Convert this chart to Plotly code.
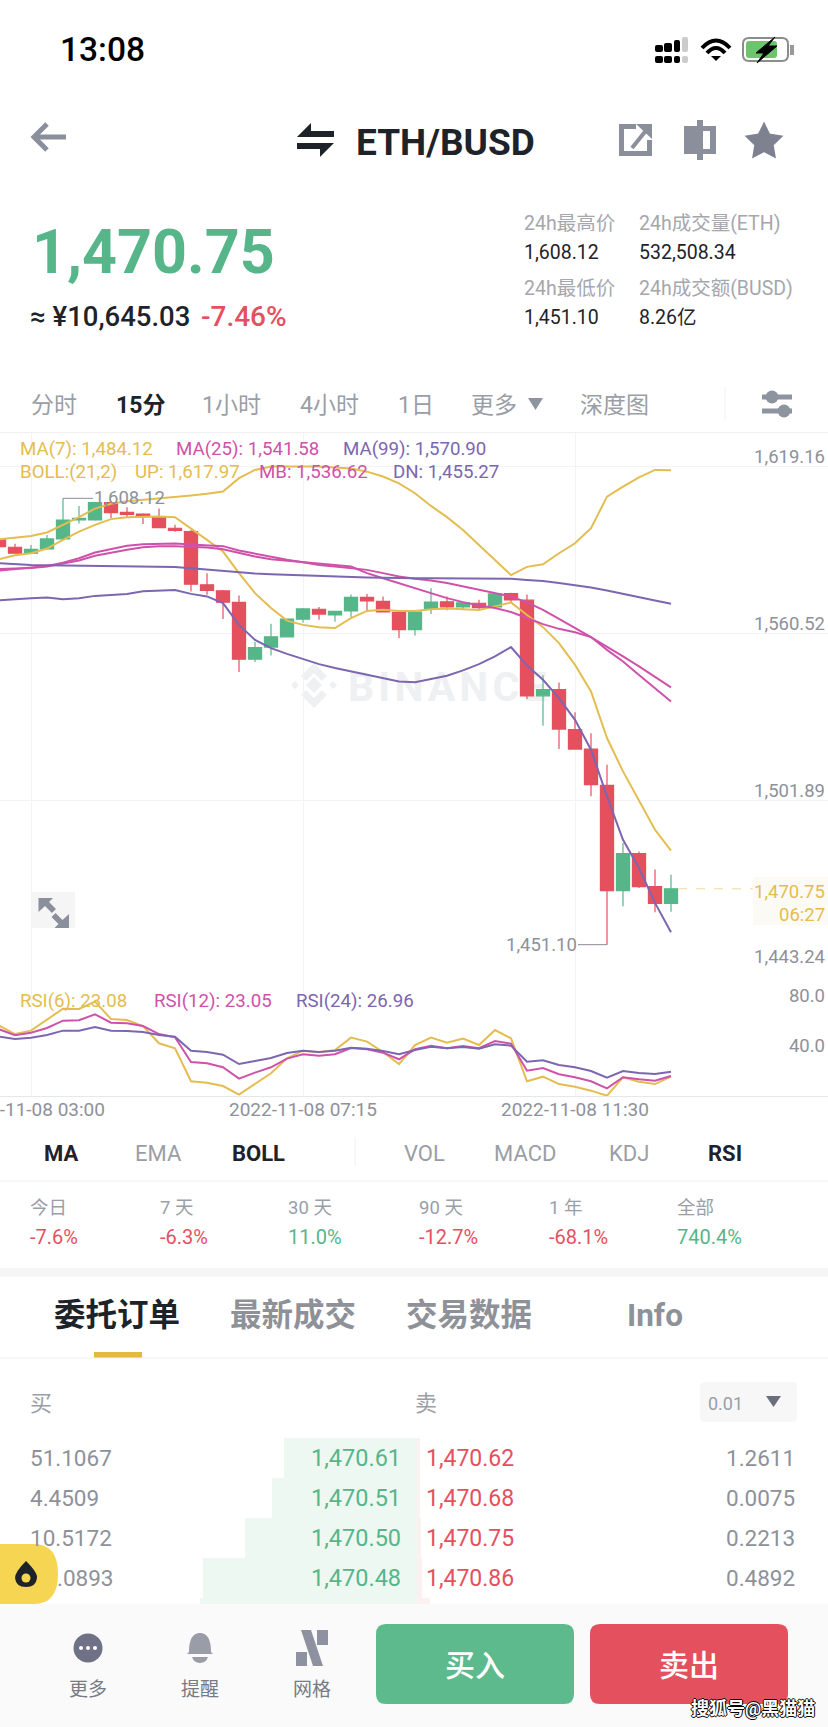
import math, re
import plotly.graph_objects as go

W, H = 828, 1727
times = ["2022-11-08 " + t for t in
 ["02:30","02:45","03:00","03:15","03:30","03:45","04:00","04:15","04:30","04:45","05:00",
  "05:15","05:30","05:45","06:00","06:15","06:30","06:45","07:00","07:15","07:30","07:45",
  "08:00","08:15","08:30","08:45","09:00","09:15","09:30","09:45","10:00","10:15","10:30",
  "10:45","11:00","11:15","11:30","11:45","12:00","12:15","12:30","12:45","13:00"]]
opens = [1593.5,1590.9,1588.8,1590.3,1593.85,1600.5,1600.5,1606.6,1603.2,1602.6,1601.7,1597.6,1596.4,1577.7,1575.6,1571.5,
         1551.5,1555.8,1559.4,1565.6,1569.1,1567.1,1568.5,1573.3,1571.9,1568.0,1561.9,1569.1,1571.7,1569.9,1571.2,1569.9,
         1574.6,1572.3,1538.65,1540.8,1526.8,1519.9,1507.15,1470.1,1483.1,1471.5,1465.65]
closes = [1591.15,1588.8,1590.2,1593.85,1600.5,1601.1,1606.6,1603.1,1602.5,1601.7,1597.8,1596.8,1577.9,1575.7,1571.6,1551.5,
          1555.6,1559.4,1565.6,1569.2,1567.4,1568.4,1573.3,1572.05,1568.2,1561.9,1568.1,1571.6,1569.9,1571.35,1569.7,1574.5,
          1572.4,1538.65,1540.8,1526.95,1519.9,1507.4,1470.1,1483.1,1471.5,1465.65,1470.75]
highs = [1594.1,1592.1,1591.7,1595.25,1608.12,1605.45,1606.6,1607.3,1605.0,1602.9,1604.5,1598.8,1597.0,1581.8,1575.9,1573.9,
         1557.6,1564.0,1565.8,1569.5,1569.9,1568.6,1574.3,1574.5,1573.6,1568.0,1568.5,1576.5,1573.6,1571.6,1572.4,1574.75,
         1574.9,1574.3,1545.9,1543.3,1532.9,1525.5,1514.4,1486.9,1483.9,1477.5,1475.7]
lows = [1590.9,1588.6,1588.6,1590.2,1593.5,1599.3,1600.2,1601.2,1601.2,1599.1,1597.8,1596.4,1575.3,1574.2,1565.7,1547.0,
        1550.5,1552.8,1559.2,1564.4,1565.4,1564.7,1566.3,1568.2,1568.0,1558.9,1559.9,1567.4,1568.7,1569.1,1569.1,1569.7,
        1571.5,1537.5,1528.1,1519.9,1519.9,1503.3,1451.1,1464.6,1471.0,1462.5,1462.7]
boll_up = [1593.7,1594.4,1594.9,1596.1,1598.8,1601.5,1604.5,1606.2,1607.1,1607.6,1608.0,1608.4,1609.1,1609.7,1610.5,1615.2,
           1618.1,1619.3,1619.3,1619.3,1619.3,1619.0,1618.6,1617.5,1615.8,1613.4,1609.9,1605.45,1601.5,1597.0,1591.7,1586.5,
           1581.1,1584.0,1584.9,1588.8,1592.3,1597.6,1608.7,1612.25,1615.5,1618.1,1618.0]
ma7 = [1586.7,1588.1,1588.8,1590.45,1593.5,1596.4,1598.8,1600.8,1601.5,1601.6,1601.7,1601.5,1597.6,1593.5,1589.4,1581.8,
       1574.75,1569.5,1565.1,1563.6,1562.8,1562.5,1566.0,1568.5,1568.9,1568.5,1568.5,1569.1,1569.4,1569.2,1568.8,1570.1,
       1571.5,1567.1,1562.8,1557.2,1549.55,1540.2,1523.8,1512.05,1501.5,1491.5,1484.2]
boll_mb = [1582.7,1583.2,1583.65,1584.35,1585.5,1587.05,1589.05,1590.2,1591.4,1592.0,1592.1,1592.2,1591.9,1591.6,1591.3,1589.75,
           1588.6,1587.5,1586.5,1585.65,1584.7,1584.1,1583.5,1582.95,1581.8,1580.6,1579.8,1579.2,1578.3,1577.1,1575.9,1574.6,
           1573.6,1571.5,1568.9,1565.7,1562.4,1559.3,1554.8,1550.7,1546.0,1541.35,1536.65]
ma25 = [1583.2,1583.4,1583.65,1584.1,1585.1,1586.25,1587.9,1589.05,1590.0,1590.9,1591.3,1591.3,1591.15,1590.8,1590.2,1588.8,
        1587.65,1586.7,1586.25,1585.65,1585.3,1584.7,1584.1,1581.8,1580.0,1578.3,1576.5,1574.75,1573.0,1571.6,1570.4,1569.5,
        1568.1,1566.0,1563.85,1562.2,1561.0,1559.3,1556.0,1552.5,1549.0,1545.2,1541.6]
ma99 = [1585.3,1584.95,1584.7,1584.6,1584.5,1584.5,1584.35,1584.35,1584.25,1584.25,1584.1,1584.0,1583.5,1583.05,1582.5,1582.0,
        1581.65,1581.4,1581.2,1580.95,1580.6,1580.5,1580.4,1580.25,1580.15,1580.0,1580.0,1580.0,1580.0,1580.0,1579.9,1579.9,
        1579.8,1579.4,1579.0,1578.3,1577.55,1576.75,1575.7,1574.6,1573.45,1572.15,1571.0]
boll_dn = [1572.2,1572.65,1573.0,1573.2,1572.65,1573.0,1573.8,1574.15,1574.5,1575.45,1575.7,1575.9,1574.5,1573.6,1571.25,1563.6,
           1558.3,1555.4,1553.4,1551.5,1549.8,1548.4,1547.2,1546.0,1544.85,1543.7,1543.45,1544.5,1545.7,1547.6,1549.8,1552.5,
           1555.8,1549.3,1544.3,1537.8,1530.2,1519.7,1503.25,1488.0,1478.05,1465.8,1455.45]
rsi6 = [63.9,57.2,59.9,68.4,77.5,77.2,83.1,69.2,68.4,63.6,49.8,45.8,19.4,18.3,15.6,8.7,17.2,25.8,37.8,43.9,42.6,44.4,54.3,51.1,42.8,33.2,48.4,
        54.3,50.3,53.5,48.4,60.4,53.8,19.4,23.1,17.2,15.1,11.9,7.9,22.6,19.1,17.2,23.1]
rsi12 = [61.0,56.2,58.3,62.0,67.9,68.2,73.0,66.3,65.8,63.6,57.2,54.6,34.8,33.8,30.6,21.5,26.3,30.6,37.5,41.0,39.9,41.0,46.0,45.0,42.3,37.0,45.0,
         47.9,45.8,47.6,45.8,51.6,49.5,27.9,30.0,25.0,22.6,19.4,13.8,22.6,21.0,19.9,23.6]
rsi24 = [55.1,53.2,54.3,56.4,59.9,59.9,62.8,59.9,59.6,58.8,56.4,55.1,43.9,42.8,40.7,33.2,35.6,38.0,42.0,43.9,42.8,43.9,46.3,45.5,43.6,41.0,44.4,
         47.1,45.8,46.8,45.5,49.0,47.9,35.1,36.2,32.4,30.6,27.6,22.3,27.6,26.0,25.2,27.1]

price_ticks = [1619.16, 1560.52, 1501.89, 1443.24]
price_labels = ["1,619.16", "1,560.52", "1,501.89", "1,443.24"]
rsi_ticks = [80, 40]
rsi_labels = ["80.0", "40.0"]
grid_times = ["2022-11-08 03:00", "2022-11-08 07:15", "2022-11-08 11:30"]
bid_qty = ["51.1067", "4.4509", "10.5172", ".0893"]
bid_price = ["1,470.61", "1,470.51", "1,470.50", "1,470.48"]
ask_price = ["1,470.62", "1,470.68", "1,470.75", "1,470.86"]
ask_qty = ["1.2611", "0.0075", "0.2213", "0.4892"]
bid_depth = [51.1067, 55.5576, 66.0748, 82.1641, 83.3]
ask_depth = [1.2611, 1.2686, 1.4899, 1.9791, 5.0]
period_names = ["今日", "7 天", "30 天", "90 天", "1 年", "全部"]
period_vals = ["-7.6%", "-6.3%", "11.0%", "-12.7%", "-68.1%", "740.4%"]

GREEN, RED = "#56B68A", "#E5505F"
YEL, PINK, PUR = "#E3BD4F", "#CF52AA", "#7C66B0"
GRAY, DARK, GRID = "#8E9199", "#1E2329", "#F2F3F5"
FONT = "Roboto, 'Noto Sans CJK SC', sans-serif"

def fx(x): return x / W
def fy(y): return 1 - y / H

ann, shp = [], []
def T(x, y, s, size, color, anchor="left", weight=None, **fontkw):
    f = dict(family=FONT, size=size, color=color, **fontkw)
    if weight: f["weight"] = weight
    if anchor == "left": x -= 2
    ann.append(dict(xref="paper", yref="paper", x=fx(x), y=fy(y), text=s, showarrow=False,
                    xanchor=anchor, yanchor="middle", font=f, borderpad=0))
def path(d, fill=None, line=None, lw=0, layer="above"):
    out = []
    for cmd, nums in re.findall(r"([MLQZ])([^MLQZ]*)", d):
        v = [float(n) for n in nums.split()]
        pts = " ".join(f"{fx(v[i]):.5f},{fy(v[i+1]):.5f}" for i in range(0, len(v), 2))
        out.append(cmd + pts)
    shp.append(dict(type="path", xref="paper", yref="paper", path=" ".join(out), layer=layer,
                    fillcolor=fill or "rgba(0,0,0,0)", line=dict(color=line or "rgba(0,0,0,0)", width=lw)))
def rect(x0, y0, x1, y1, fill, layer="above"):
    shp.append(dict(type="rect", xref="paper", yref="paper", x0=fx(x0), x1=fx(x1), y0=fy(y0), y1=fy(y1),
                    fillcolor=fill, line=dict(width=0), layer=layer))
def rrect(x0, y0, x1, y1, r, fill=None, line=None, lw=0):
    path(f"M{x0+r} {y0} L{x1-r} {y0} Q{x1} {y0} {x1} {y0+r} L{x1} {y1-r} Q{x1} {y1} {x1-r} {y1} "
         f"L{x0+r} {y1} Q{x0} {y1} {x0} {y1-r} L{x0} {y0+r} Q{x0} {y0} {x0+r} {y0} Z", fill, line, lw)
def seg(x0, y0, x1, y1, color, w):
    shp.append(dict(type="line", xref="paper", yref="paper", x0=fx(x0), x1=fx(x1), y0=fy(y0), y1=fy(y1),
                    line=dict(color=color, width=w), layer="above"))
def circ(cx, cy, r, fill):
    shp.append(dict(type="circle", xref="paper", yref="paper", x0=fx(cx-r), x1=fx(cx+r), y0=fy(cy-r), y1=fy(cy+r),
                    fillcolor=fill, line=dict(width=0), layer="above"))

# --- status bar
T(61, 50, "13:08", 33.5, "#000000", weight=500)
for (x0, x1, top, c) in [(655, 663, 45, "#000"), (664, 672, 43, "#000"), (674, 680, 40, "#000"), (682, 688, 37, "#CCCCCC")]:
    rrect(x0, top, x1, 52, 2, c)
    rrect(x0, 56, x1, 63, 2, c)
path("M702 48 Q716 33 730 48", None, "#000", 4)
path("M707 53 Q716 43 725 53", None, "#000", 4)
path("M711 56 L721 56 L716 61 Z", "#000")
rrect(743, 38, 788, 61, 6, None, "#8C8C8C", 2)
rrect(746, 41, 777, 58, 3, "#6CC56A")
rect(790, 45, 794, 55, "#999999")
path("M775 37 L756 53 L764 53 L757 63 L777 46 L768 46 Z", "#000", "#000", 1)

# --- header
path("M66 137 L34 137", None, "#8A8F9B", 5)
path("M47 124 L34 137 L47 150", None, "#8A8F9B", 5)
path("M311 123 L297 137 L334 137 L334 131 L311 131 Z", DARK)
path("M297 143 L334 143 L320 157 L320 149 L297 149 Z", DARK)
T(357, 142, "ETH/BUSD", 37, DARK, weight=700)
path("M636 126.5 L621.5 126.5 L621.5 153.5 L649.5 153.5 L649.5 140", None, "#8B8F9C", 5)
path("M632 148 L648 128", None, "#8B8F9C", 4)
path("M636 124 L652 124 L652 139 Z", "#8B8F9C")
rect(697, 120, 703, 160, "#8B8F9C")
rect(684, 126, 716, 154, "#8B8F9C")
rect(703, 131, 710, 149, "#FFFFFF")
star = []
for i in range(10):
    r = 17 if i % 2 == 0 else 8.5
    a = -math.pi / 2 + i * math.pi / 5
    star.append(f"{764 + r * math.cos(a):.1f} {142 + r * math.sin(a):.1f}")
path("M" + " L".join(star) + " Z", "#7D8190", "#7D8190", 3)

# --- price block
T(33, 252, "1,470.75", 61, GREEN, weight=700)
T(31, 316, "≈ ¥10,645.03", 27.5, DARK, weight=500)
T(202, 316, "-7.46%", 28, RED, weight=500)
for (x, y, s, c) in [(525, 223, "24h最高价", "#A5A7AD"), (640, 223, "24h成交量(ETH)", "#A5A7AD"),
                     (525, 253, "1,608.12", DARK), (640, 253, "532,508.34", DARK),
                     (525, 288, "24h最低价", "#A5A7AD"), (640, 288, "24h成交额(BUSD)", "#A5A7AD"),
                     (525, 318, "1,451.10", DARK), (640, 318, "8.26亿", DARK)]:
    T(x, y, s, 19.5, c)

# --- interval tabs
for (x, s, c, w) in [(32, "分时", "#9A9EA6", None), (117, "15分", DARK, 700), (203, "1小时", "#9A9EA6", None),
                     (301, "4小时", "#9A9EA6", None), (399, "1日", "#9A9EA6", None), (472, "更多", "#9A9EA6", None),
                     (581, "深度图", "#9A9EA6", None)]:
    T(x, 405, s, 23, c, weight=w)
path("M528 398 L543 398 L535.5 410 Z", "#8E93A0")
seg(725, 387, 725, 420, "#F0F0F2", 1)
seg(762, 397, 792, 397, "#8E93A0", 5)
seg(762, 411, 792, 411, "#8E93A0", 5)
circ(772, 397, 6.5, "#8E93A0")
circ(784, 411, 6.5, "#8E93A0")

# --- chart legends
for (x, y, s, c) in [(21, 449, "MA(7): 1,484.12", YEL), (177, 449, "MA(25): 1,541.58", PINK), (344, 449, "MA(99): 1,570.90", PUR),
                     (21, 472, "BOLL:(21,2)", YEL), (136, 472, "UP: 1,617.97", YEL), (260, 472, "MB: 1,536.62", PINK),
                     (394, 472, "DN: 1,455.27", PUR), (21, 1001, "RSI(6): 23.08", YEL), (155, 1001, "RSI(12): 23.05", PINK),
                     (297, 1001, "RSI(24): 26.96", PUR)]:
    T(x, y, s, 18.7, c)

# watermark under the marks
c_w = "#EFF0F2"
path("M314 677 L322 685 L314 693 L306 685 Z", c_w, layer="below")
path("M295 681 L299 685 L295 689 L291 685 Z", c_w, layer="below")
path("M333 681 L337 685 L333 689 L329 685 Z", c_w, layer="below")
path("M314 663 L327 676 L322 681 L314 673 L306 681 L301 676 Z", c_w, layer="below")
path("M314 708 L327 695 L322 690 L314 698 L306 690 L301 695 Z", c_w, layer="below")
shp.append(dict(type="rect", xref="paper", yref="paper", x0=fx(345), x1=fx(540), y0=fy(705), y1=fy(662), layer="below",
                line=dict(width=0), fillcolor="rgba(0,0,0,0)",
                label=dict(text="B\u200aI\u200aN\u200aA\u200aN\u200aC\u200aE", textposition="middle left", padding=0,
                           font=dict(family=FONT, size=41, color=c_w, weight=700))))

# expand icon
rect(32, 892, 75, 928, "#F5F5F5")
path("M38.5 898 L53 898 L49 902 L56 909 L52 913 L45 906 L38.5 912 Z", "#8B8E9B")
path("M69 928 L54.5 928 L58.5 924 L51.5 917 L55.5 913 L62.5 920 L69 914 Z", "#8B8E9B")

# last price marker
shp.append(dict(type="line", xref="paper", yref="y", x0=fx(678), x1=fx(753), y0=closes[-1], y1=closes[-1],
                line=dict(color="#F0D99A", width=1, dash="dash"), layer="above"))
rect(753, 877, 828, 925, "#FBFAF5")
T(826, 892, "1,470.75", 18.5, YEL, "right")
T(826, 915, "06:27", 18.5, YEL, "right")

# extremes
ann.append(dict(xref="x", yref="y", x=times[4], y=highs[4], ax=30, ay=0, axref="pixel", ayref="pixel", text="1,608.12",
                xanchor="left", yanchor="middle", showarrow=True, arrowhead=0, arrowwidth=1, arrowcolor="#8A8E96", standoff=0,
                borderpad=0, font=dict(family=FONT, size=18.5, color=GRAY)))
ann.append(dict(xref="x", yref="y", x=times[38], y=lows[38], ax=-29, ay=0, axref="pixel", ayref="pixel", text="1,451.10",
                xanchor="right", yanchor="middle", showarrow=True, arrowhead=0, arrowwidth=1, arrowcolor="#8A8E96", standoff=0,
                borderpad=0, font=dict(family=FONT, size=18.5, color=GRAY)))

# --- indicator tabs
for (x, s, c, w) in [(45, "MA", DARK, 700), (136, "EMA", "#9A9EA6", None), (233, "BOLL", DARK, 700), (405, "VOL", "#9A9EA6", None),
                     (495, "MACD", "#9A9EA6", None), (610, "KDJ", "#9A9EA6", None), (709, "RSI", DARK, 700)]:
    T(x, 1153, s, 22, c, weight=w)
seg(355, 1137, 355, 1166, "#F0F0F2", 1)
seg(0, 1181, 828, 1181, "#EEEFF1", 1)
for x, n, v in zip([31, 161, 289, 420, 550, 678], period_names, period_vals):
    T(x, 1208, n, 18.5, "#9A9EA6")
    T(x, 1237, v, 20, GREEN if not v.startswith("-") else RED)
rect(0, 1268, 828, 1277, "#F6F6F6")

# --- book tabs
for (x, s, c) in [(55, "委托订单", DARK), (231, "最新成交", "#8E9197"), (407, "交易数据", "#8E9197"), (628, "Info", "#8E9197")]:
    T(x, 1315, s, 31.5, c, weight=700)
rect(94, 1352, 142, 1358, "#E5BA3C")
seg(0, 1358, 828, 1358, "#EEEFF1", 1)

# --- order book
T(31, 1403, "买", 22, "#9A9EA6")
T(416, 1403, "卖", 22, "#9A9EA6")
rrect(700, 1382, 797, 1422, 5, "#F7F7F7")
T(709, 1403, "0.01", 18, "#9A9EA6")
path("M766 1396 L781 1396 L773.5 1407 Z", "#6A6F7B")
for i, y in enumerate([1458, 1498, 1538, 1578]):
    T(58 if i == 3 else 31, y, bid_qty[i], 22.5, "#8E9199")
    T(402, y, bid_price[i], 23.5, GREEN, "right")
    T(427, y, ask_price[i], 23, RED)
    T(796, y, ask_qty[i], 22.5, "#8E9199", "right")

# bubble
path("M0 1544 L34 1544 Q58 1544 58 1574 Q58 1604 34 1604 L0 1604 Z", "#F5D552")
path("M26 1561 Q38 1573 37 1578 Q36 1587 26 1587 Q16 1587 15 1578 Q15 1572 26 1561 Z", "#1E2329")
circ(26, 1578, 4.5, "#F5D552")

# --- bottom bar
rect(0, 1604, 828, 1727, "#FAFAFA")
circ(88, 1648, 14.5, "#6F7186")
for x in (81, 88, 95):
    circ(x, 1648, 2, "#FFFFFF")
T(88, 1689, "更多", 19, "#777B85", "center")
path("M189 1652 Q189 1633 200 1633 Q211 1633 211 1652 L213 1654 L187 1654 Z", "#9A9CA8")
path("M192 1657 L208 1657 Q206 1663 200 1663 Q194 1663 192 1657 Z", "#9A9CA8")
T(200, 1689, "提醒", 19, "#777B85", "center")
rect(296, 1652, 307, 1666, "#8E92A0")
rect(317, 1630, 328, 1645, "#8E92A0")
path("M301 1630 L311 1630 L323 1666 L313 1666 Z", "#8E92A0")
T(312, 1689, "网格", 19, "#777B85", "center")
rrect(376, 1624, 574, 1704, 10, "#5CBA8C")
rrect(590, 1624, 788, 1704, 10, RED)
T(475, 1665, "买入", 30, "#FFFFFF", "center", weight=500)
T(689, 1665, "卖出", 30, "#FFFFFF", "center", weight=500)
T(753, 1708, "搜狐号@黑猫猫", 18, "#FFFFFF", "center", weight=700,
  shadow="-1px 0 #000, 1px 0 #000, 0 1px #000, 0 -1px #000")

# --- traces
fig = go.Figure()
fig.add_trace(go.Candlestick(x=times, open=opens, high=highs, low=lows, close=closes, whiskerwidth=0, xaxis="x", yaxis="y",
                             increasing=dict(line=dict(color=GREEN, width=1.2), fillcolor=GREEN),
                             decreasing=dict(line=dict(color=RED, width=1.2), fillcolor=RED), showlegend=False))
for vals, c in [(boll_up, YEL), (ma7, YEL), (boll_mb, PINK), (ma25, PINK), (ma99, PUR), (boll_dn, PUR)]:
    fig.add_trace(go.Scatter(x=times, y=vals, mode="lines", line=dict(color=c, width=2), xaxis="x", yaxis="y", showlegend=False))
for vals, c in [(rsi6, YEL), (rsi12, PINK), (rsi24, PUR)]:
    fig.add_trace(go.Scatter(x=times, y=vals, mode="lines", line=dict(color=c, width=2), xaxis="x2", yaxis="y2", showlegend=False))
fig.add_trace(go.Bar(x=bid_depth, y=[0, 1, 2, 3, 4], orientation="h", marker=dict(color="#EDF8F2", line=dict(width=0)),
                     xaxis="x3", yaxis="y3", showlegend=False))
fig.add_trace(go.Bar(x=ask_depth, y=[0, 1, 2, 3, 4], orientation="h", marker=dict(color="#FDF0F1", line=dict(width=0)),
                     xaxis="x4", yaxis="y4", showlegend=False))

xr = ["2022-11-08 02:30:56", "2022-11-08 15:27:11"]
hidden = dict(visible=False, fixedrange=True)
y_common = dict(side="right", ticklabelposition="inside", ticks="", showline=False, zeroline=False, ticklabeloverflow="allow",
                tickfont=dict(family=FONT, size=18.5, color=GRAY), ticklabelshift=-10)
fig.update_layout(
    width=W, height=H, margin=dict(l=0, r=0, t=0, b=0, autoexpand=False), paper_bgcolor="#FFFFFF", plot_bgcolor="rgba(0,0,0,0)",
    showlegend=False, boxgap=0.18, boxgroupgap=0, bargap=0, dragmode=False,
    xaxis=dict(domain=[0, 1], range=xr, type="date", anchor="y", side="top", tickmode="array", tickvals=grid_times, showticklabels=False,
               showgrid=True, gridcolor=GRID, gridwidth=1, showline=True, linecolor="#EEEFF1", linewidth=1, ticks="",
               rangeslider=dict(visible=False)),
    yaxis=dict(domain=[fy(967), fy(433)], range=[1443.24, 1631.1], anchor="x", tickmode="array", tickvals=price_ticks, ticktext=price_labels,
               showgrid=True, gridcolor=GRID, gridwidth=1, **y_common),
    xaxis2=dict(domain=[0, 1], range=xr, type="date", anchor="y2", tickmode="array", tickvals=grid_times,
                ticktext=["2022-11-08 03:00", "2022-11-08 07:15", "2022-11-08 11:30"], showgrid=True, gridcolor=GRID, gridwidth=1,
                showline=True, linecolor="#E6E7EA", linewidth=1, ticks="", ticklabeloverflow="allow", ticklabelstandoff=-4,
                tickfont=dict(family=FONT, size=19, color=GRAY)),
    yaxis2=dict(domain=[fy(1096), fy(967)], range=[7.64, 110.8], anchor="x2", tickmode="array", tickvals=rsi_ticks, ticktext=rsi_labels,
                showgrid=False, **y_common),
    xaxis3=dict(domain=[0, fx(417)], range=[159.8, 0], anchor="y3", **hidden),
    yaxis3=dict(domain=[fy(1638), fy(1438)], range=[4.5, -0.5], anchor="x3", **hidden),
    xaxis4=dict(domain=[fx(417), 1], range=[0, 157.9], anchor="y4", **hidden),
    yaxis4=dict(domain=[fy(1638), fy(1438)], range=[4.5, -0.5], anchor="x4", **hidden),
    annotations=ann, shapes=shp,
)
fig.write_html("out.html", config=dict(displayModeBar=False),
               post_script="document.body.style.margin='0';document.documentElement.style.overflow='hidden';")
